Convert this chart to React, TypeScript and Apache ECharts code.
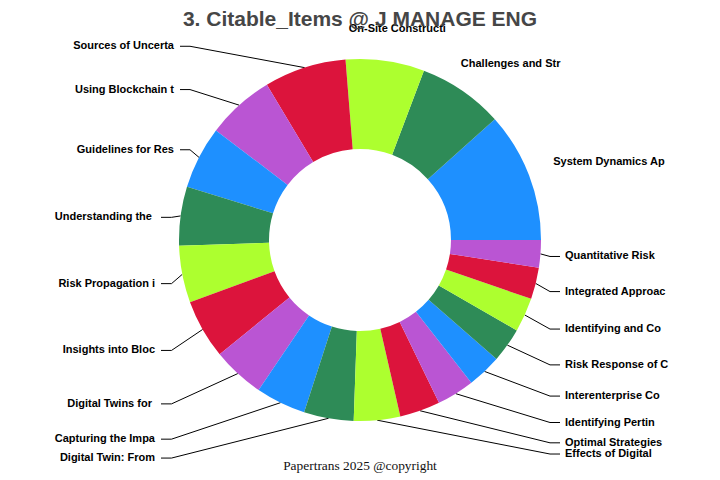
import React, { useEffect, useRef } from "react";
import * as echarts from "echarts";

const titleText = "3. Citable_Items @ J MANAGE ENG";
const footerText = "Papertrans 2025 @copyright";

const categories = [
  "System Dynamics Ap",
  "Challenges and Str",
  "On-Site Constructi",
  "Sources of Uncerta",
  "Using Blockchain t",
  "Guidelines for Res",
  "Understanding the ",
  "Risk Propagation i",
  "Insights into Bloc",
  "Digital Twins for ",
  "Capturing the Impa",
  "Digital Twin: From",
  "Effects of Digital",
  "Optimal Strategies",
  "Identifying Pertin",
  "Interenterprise Co",
  "Risk Response of C",
  "Identifying and Co",
  "Integrated Approac",
  "Quantitative Risk",
];

const values = [
  41.9, 27.5, 25.3, 26.4, 21.8, 20.2, 18.9, 18.3, 19.1, 16.8, 16.1, 16.0, 14.9,
  13.0, 12.1, 11.0, 11.1, 11.0, 10.2, 8.8,
];

const palette = ["#1E90FF", "#2E8B57", "#ADFF2F", "#DC143C", "#BA55D3"];

const CX = 360;
const CY = 240;
const R_IN = 91;
const R_OUT = 181;

export default function App() {
  const ref = useRef<HTMLDivElement>(null);
  useEffect(() => {
    if (!ref.current) return;
    const chart = echarts.init(ref.current, undefined, { renderer: "svg" });

    const total = values.reduce((a, b) => a + b, 0);
    const mids: number[] = [];
    let acc = 0;
    values.forEach((v) => {
      mids.push(((acc + v / 2) / total) * Math.PI * 2);
      acc += v;
    });

    const labelLayout = (params: any) => {
      const i = params.dataIndex;
      let ang = mids[i];
      let p0: number[] = [CX + R_OUT * Math.cos(ang), CY - R_OUT * Math.sin(ang)];
      const pts = params.labelLinePoints;
      if (pts && pts[0]) {
        p0 = [pts[0][0], pts[0][1]];
        ang = Math.atan2(CY - p0[1], p0[0] - CX);
        if (ang < 0) ang += Math.PI * 2;
      }
      const c = Math.cos(ang);
      const s = Math.sin(ang);
      if (c >= 0 && s >= 0) {
        const y = CY - (209.7 * s + 4.4);
        const x = CX + 266.5 * c;
        return {
          x,
          y,
          align: "center",
          verticalAlign: "middle",
          labelLinePoints: [p0, p0, p0],
        };
      }
      if (c >= 0) {
        const y = CY + 215 * Math.abs(s);
        return {
          x: 565,
          y: y - 1,
          align: "left",
          verticalAlign: "middle",
          labelLinePoints: [p0, [550, y], [560, y]],
        };
      }
      if (s < 0) {
        const y = CY + 219.4 * Math.abs(s) + 2;
        return {
          x: 155,
          y: y - 1,
          align: "right",
          verticalAlign: "middle",
          labelLinePoints: [p0, [171.5, y], [161, y]],
        };
      }
      const y = CY - (208.8 * s - 5.1);
      const deg = (ang * 180) / Math.PI;
      if (deg < 160) {
        return {
          x: 174,
          y: y - 1,
          align: "right",
          verticalAlign: "middle",
          labelLinePoints: [p0, [190, y], [180, y]],
        };
      }
      return {
        x: 155,
        y: y - 1,
        align: "right",
        verticalAlign: "middle",
        labelLinePoints: [p0, [171.5, y], [161, y]],
      };
    };

    chart.setOption({
      animation: false,
      color: palette,
      title: {
        text: titleText,
        left: "center",
        top: 3,
        textStyle: {
          fontFamily: "Arial, 'Liberation Sans', sans-serif",
          fontSize: 21,
          fontWeight: "bold",
          color: "#464646",
        },
      },
      graphic: [
        {
          type: "text",
          left: "center",
          top: 459,
          style: {
            text: footerText,
            fontFamily: "'Times New Roman', 'Liberation Serif', serif",
            fontSize: 13.4,
            fill: "#111",
          },
        },
      ],
      series: [
        {
          type: "pie",
          center: [CX, CY],
          radius: [R_IN, R_OUT],
          startAngle: 0,
          clockwise: false,
          avoidLabelOverlap: false,
          label: {
            show: true,
            position: "outside",
            fontFamily: "Arial, 'Liberation Sans', sans-serif",
            fontSize: 11,
            fontWeight: "bold",
            color: "#000",
          },
          labelLine: {
            show: true,
            length: 10,
            length2: 10,
            lineStyle: { color: "#000", width: 1 },
          },
          labelLayout,
          emphasis: { disabled: true },
          data: categories.map((name, i) => ({ name, value: values[i] })),
        },
      ],
    });
    return () => chart.dispose();
  }, []);
  return (
    <div
      ref={ref}
      style={{ position: "fixed", left: 0, top: 0, width: 720, height: 480, background: "#fff" }}
    />
  );
}
